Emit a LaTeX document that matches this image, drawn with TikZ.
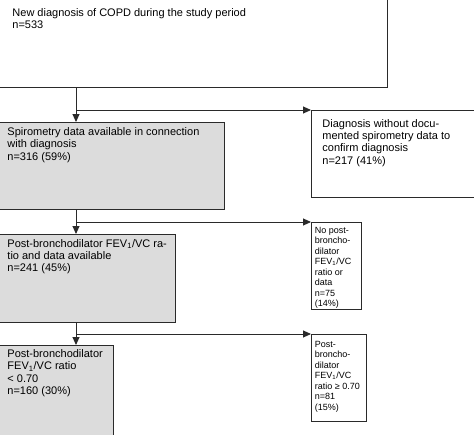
\documentclass[tikz,border=0pt]{standalone}
\usepackage{fontspec}
\setmainfont{Liberation Sans}
\usepackage{tikz}
\usetikzlibrary{arrows.meta}

\definecolor{boxgray}{HTML}{DCDCDC}
\definecolor{linegray}{HTML}{2A2A2A}
% text of a box: width, height, left offset, first baseline, lines
\newcommand{\boxtxt}[5]{\parbox[c][#2][t]{#1}{\raggedright\leftskip=#3\rule{0pt}{#4}#5}}

\begin{document}
\begin{tikzpicture}[
        x=1pt, y=-1pt,
        box/.style={draw=linegray, line width=0.9pt, anchor=north west, inner sep=0pt, fill=white,
                    font=\fontsize{11}{12.3}\selectfont},
        shaded/.style={box, fill=boxgray},
        narrow/.style={box, font=\fontsize{9}{10.5}\selectfont},
        arr/.style={-{Triangle[length=8pt,width=7pt]}, line width=0.9pt, draw=linegray}
    ]
        \clip (0,0) rectangle (474,434);
        \node[box] (new) at (-2,-2) {\boxtxt{389pt}{89pt}{14pt}{18pt}{New diagnosis of COPD during the study period\\ n=533}};
        \node[shaded] (spiro) at (-2,122) {\boxtxt{226pt}{87pt}{9pt}{13pt}{Spirometry data available in connection\\ with diagnosis\\ n=316 (59\%)}};
        \node[box] (nodoc) at (311,110) {\boxtxt{170pt}{87pt}{11pt}{16.7pt}{Diagnosis without docu-\\ mented spirometry data to\\ confirm diagnosis\\ n=217 (41\%)}};
        \node[shaded] (post) at (-2,234) {\boxtxt{177pt}{88pt}{9pt}{12.7pt}{Post-bronchodilator FEV\textsubscript{1}/VC ra-\\ tio and data available\\ n=241 (45\%)}};
        \node[narrow] (nopost) at (311,222) {\boxtxt{50pt}{87pt}{3.5pt}{10.7pt}{No post-\\ broncho-\\ dilator\\ FEV\textsubscript{1}/VC\\ ratio or\\ data\\ n=75\\ (14\%)}};
        \node[shaded] (ratio) at (-2,345) {\boxtxt{115pt}{95pt}{9pt}{12pt}{Post-bronchodilator\\ FEV\textsubscript{1}/VC ratio\\ < 0.70\\ n=160 (30\%)}};
        \node[narrow] (ratiohigh) at (311,334) {\boxtxt{55pt}{87pt}{3.5pt}{13pt}{Post-\\ broncho-\\ dilator\\ FEV\textsubscript{1}/VC\\ \mbox{ratio ≥ 0.70}\\ n=81\\ (15\%)}};
        % branch points on the trunk
        \coordinate (t1) at (76,110);
        \coordinate (t2) at (76,222);
        \coordinate (t3) at (76,334);
        \draw[arr] (new.south -| t1) -- (spiro.north -| t1);
        \draw[arr] (t1) -- (nodoc.north west);
        \draw[arr] (spiro.south -| t2) -- (post.north -| t2);
        \draw[arr] (t2) -- (nopost.north west);
        \draw[arr] (post.south -| t3) -- (ratio.north -| t3);
        \draw[arr] (t3) -- (ratiohigh.north west);
    \end{tikzpicture}
\end{document}
